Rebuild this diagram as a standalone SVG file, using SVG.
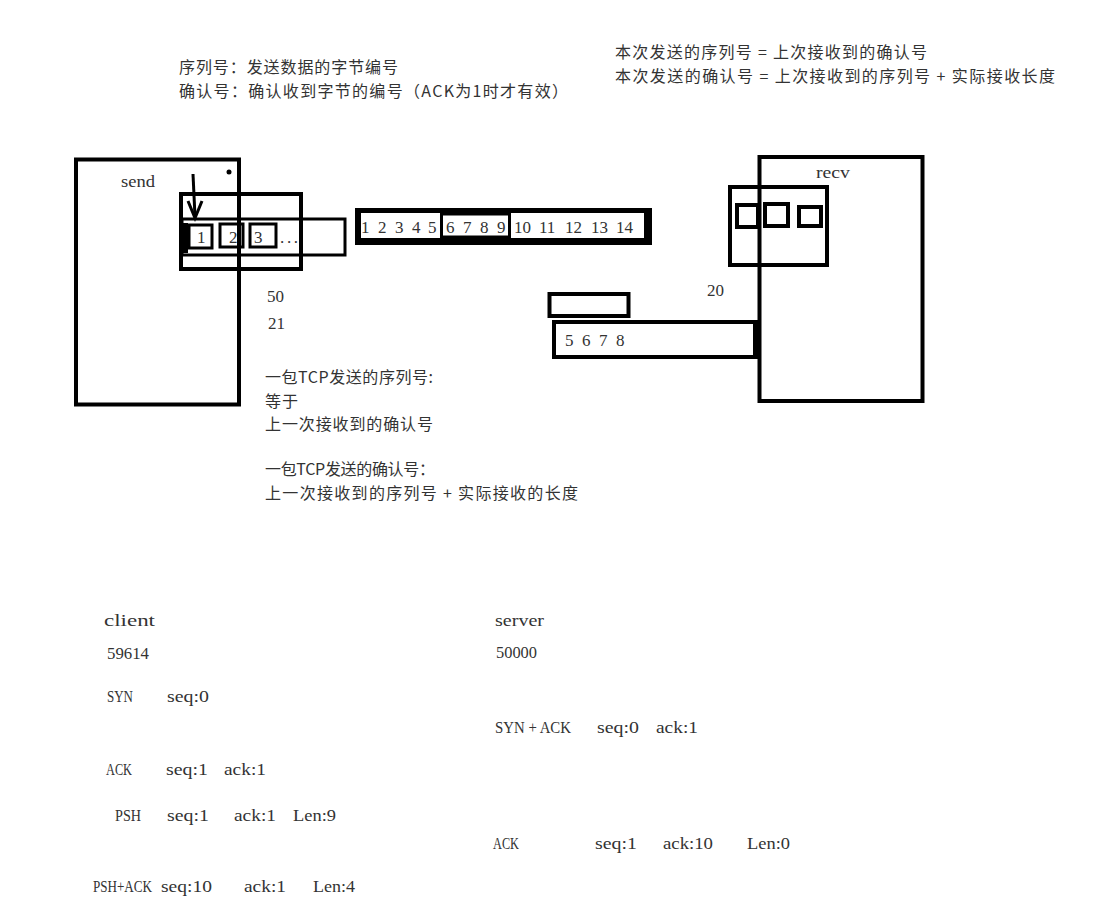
<svg xmlns="http://www.w3.org/2000/svg" width="1112" height="911" viewBox="0 0 1112 911">
<style>
.c{font-family:"Noto Sans CJK SC","Noto Sans",sans-serif;font-size:16px;fill:#333}
.t{font-family:"Liberation Serif","Noto Sans CJK SC",serif;font-size:17px;fill:#333}
.b{fill:none;stroke:#000}
.s3{stroke-width:3}
.s4{stroke-width:4}
</style>
<rect width="1112" height="911" fill="#fff"/>
<g id="notes-top">
<text class="c" x="179" y="73" textLength="219">序列号：发送数据的字节编号</text>
<text class="c" x="179" y="96.5" textLength="389">确认号：确认收到字节的编号（ACK为1时才有效）</text>
<text class="c" x="615" y="57.5" textLength="312">本次发送的序列号 = 上次接收到的确认号</text>
<text class="c" x="615" y="81.5" textLength="440">本次发送的确认号 = 上次接收到的序列号 + 实际接收长度</text>
</g>
<g id="send">
<rect class="b s4" x="76" y="159.5" width="163" height="245"/>
<circle cx="229" cy="172" r="2.5" fill="#000"/>
<text class="t" x="121" y="187" textLength="34" lengthAdjust="spacingAndGlyphs">send</text>
<rect class="b s4" x="181" y="194" width="120" height="75"/>
<rect class="b s3" x="182" y="219" width="163" height="36"/>
<rect x="183" y="223" width="5" height="30" fill="#000"/>
<rect class="b s3" x="189" y="225" width="23" height="23"/>
<rect class="b s3" x="220" y="224" width="23" height="23"/>
<rect class="b s3" x="250" y="224" width="26" height="23"/>
<text class="t" x="197" y="243">1</text>
<text class="t" x="229" y="243">2</text>
<text class="t" x="254" y="243">3</text>
<text class="t" x="280" y="243" textLength="18">...</text>
<text class="t" x="267" y="302">50</text>
<text class="t" x="268" y="329">21</text>
</g>
<g id="seq-bar">
<rect x="355" y="208" width="297" height="37" fill="#000"/>
<rect x="361" y="213" width="283" height="25" fill="#fff"/>
<rect class="b s3" x="441.5" y="214" width="68" height="23"/>
<text class="t" y="233"><tspan x="361">1</tspan><tspan x="378">2</tspan><tspan x="395">3</tspan><tspan x="412">4</tspan><tspan x="428">5</tspan></text>
<text class="t" y="233"><tspan x="446">6</tspan><tspan x="463">7</tspan><tspan x="480">8</tspan><tspan x="497">9</tspan></text>
<text class="t" y="233"><tspan x="514">10</tspan><tspan x="539">11</tspan><tspan x="565">12</tspan><tspan x="591">13</tspan><tspan x="616">14</tspan></text>
</g>
<g id="recv">
<rect class="b s4" x="759.5" y="157" width="163" height="244"/>
<text class="t" x="816" y="178" textLength="34" lengthAdjust="spacingAndGlyphs">recv</text>
<rect class="b s4" x="730" y="187" width="97" height="78"/>
<rect class="b s4" x="737" y="205" width="21" height="22"/>
<rect class="b s4" x="765" y="204" width="23" height="22"/>
<rect class="b s4" x="799" y="207" width="22" height="19"/>
<text class="t" x="707" y="296">20</text>
</g>
<g id="recv-buffers">
<rect class="b s4" x="549.5" y="294" width="79" height="22"/>
<rect class="b s4" x="554" y="322" width="201" height="35"/>
<rect x="753" y="320" width="6" height="39" fill="#000"/>
<text class="t" y="346"><tspan x="565">5</tspan><tspan x="582">6</tspan><tspan x="599">7</tspan><tspan x="616">8</tspan></text>
</g>
<g id="notes-mid">
<text class="c" x="265" y="383" textLength="168">一包TCP发送的序列号:</text>
<text class="c" x="265" y="406.5" textLength="33">等于</text>
<text class="c" x="265" y="430" textLength="168">上一次接收到的确认号</text>
<text class="c" x="265" y="475" textLength="170">一包TCP发送的确认号：</text>
<text class="c" x="265" y="499" textLength="313">上一次接收到的序列号 + 实际接收的长度</text>
</g>
<g id="client">
<text class="t" x="104" y="626" textLength="51" lengthAdjust="spacingAndGlyphs">client</text>
<text class="t" x="107" y="659" textLength="42" lengthAdjust="spacingAndGlyphs">59614</text>
<text class="t" x="107" y="702" textLength="26" lengthAdjust="spacingAndGlyphs">SYN</text>
<text class="t" x="167" y="702" textLength="42" lengthAdjust="spacingAndGlyphs">seq:0</text>
<text class="t" x="106" y="775" textLength="26" lengthAdjust="spacingAndGlyphs">ACK</text>
<text class="t" x="166" y="775" textLength="42" lengthAdjust="spacingAndGlyphs">seq:1</text>
<text class="t" x="224" y="775" textLength="42" lengthAdjust="spacingAndGlyphs">ack:1</text>
<text class="t" x="115" y="821" textLength="26" lengthAdjust="spacingAndGlyphs">PSH</text>
<text class="t" x="167" y="821" textLength="42" lengthAdjust="spacingAndGlyphs">seq:1</text>
<text class="t" x="234" y="821" textLength="42" lengthAdjust="spacingAndGlyphs">ack:1</text>
<text class="t" x="293" y="821" textLength="43" lengthAdjust="spacingAndGlyphs">Len:9</text>
<text class="t" transform="translate(93 892) scale(0.77 1)" x="0" y="0" textLength="76.6" lengthAdjust="spacingAndGlyphs">PSH+ACK</text>
<text class="t" x="161" y="892" textLength="51" lengthAdjust="spacingAndGlyphs">seq:10</text>
<text class="t" x="244" y="892" textLength="42" lengthAdjust="spacingAndGlyphs">ack:1</text>
<text class="t" x="313" y="892" textLength="42" lengthAdjust="spacingAndGlyphs">Len:4</text>
</g>
<g id="server">
<text class="t" x="495" y="626" textLength="49" lengthAdjust="spacingAndGlyphs">server</text>
<text class="t" x="496" y="658" textLength="41" lengthAdjust="spacingAndGlyphs">50000</text>
<text class="t" x="495" y="733" textLength="76" lengthAdjust="spacingAndGlyphs">SYN + ACK</text>
<text class="t" x="597" y="733" textLength="42" lengthAdjust="spacingAndGlyphs">seq:0</text>
<text class="t" x="656" y="733" textLength="42" lengthAdjust="spacingAndGlyphs">ack:1</text>
<text class="t" x="493" y="849" textLength="26" lengthAdjust="spacingAndGlyphs">ACK</text>
<text class="t" x="595" y="849" textLength="42" lengthAdjust="spacingAndGlyphs">seq:1</text>
<text class="t" x="663" y="849" textLength="50" lengthAdjust="spacingAndGlyphs">ack:10</text>
<text class="t" x="747" y="849" textLength="43" lengthAdjust="spacingAndGlyphs">Len:0</text>
</g>
<g id="connectors">
<path class="b s3" d="M193,174 L195,217"/>
<path class="b s3" d="M188,201 L195,218 L202,201"/>
</g>
</svg>
